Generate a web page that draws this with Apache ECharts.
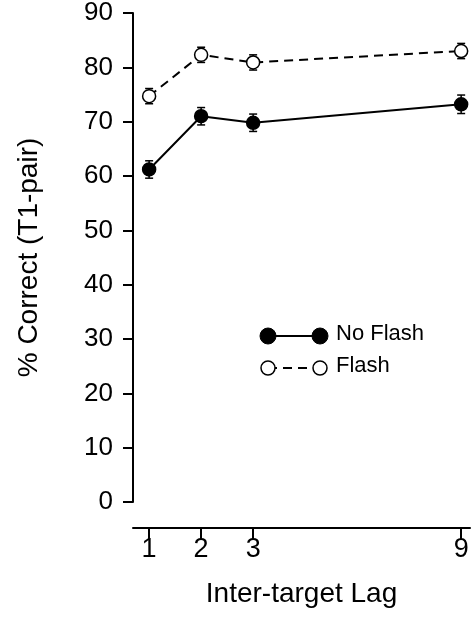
<!DOCTYPE html><html><head><meta charset="utf-8"><script src="https://cdn.jsdelivr.net/npm/echarts@6/dist/echarts.min.js"></script></head><body style="margin:0"><div id="c" style="width:474px;height:619px"></div><script>
var lagLabels=['1','2','3','9'];
var lagPos=[1,2,3,7];
var noFlash=[61.2,71.0,69.8,73.2];
var noFlashErr=[1.6,1.6,1.6,1.7];
var flash=[74.7,82.3,80.9,83.0];
var flashErr=[1.4,1.4,1.4,1.4];
var yTicks=[0,10,20,30,40,50,60,70,80,90];
function pts(v){return v.map(function(y,i){return [lagPos[i],y];});}
function errs(v,e){return v.map(function(y,i){return [lagPos[i],y-e[i],y+e[i]];});}
function errSeries(v,e){return {type:'custom',data:errs(v,e),z:1,renderItem:function(p,api){var x=api.value(0);var a=api.coord([x,api.value(1)]),b=api.coord([x,api.value(2)]);return {type:'group',children:[{type:'line',shape:{x1:a[0],y1:a[1],x2:b[0],y2:b[1]},style:{stroke:'#000',lineWidth:1.5}},{type:'line',shape:{x1:a[0]-4,y1:a[1],x2:a[0]+4,y2:a[1]},style:{stroke:'#000',lineWidth:1.5}},{type:'line',shape:{x1:b[0]-4,y1:b[1],x2:b[0]+4,y2:b[1]},style:{stroke:'#000',lineWidth:1.5}}]};}};}
var ch=echarts.init(document.getElementById('c'));
var f='Liberation Sans, Arial, sans-serif';
ch.setOption({animation:false,
grid:{left:133,right:4,top:12,bottom:117},
xAxis:{type:'value',min:0.69,max:7.17,offset:26,axisLine:{onZero:false,lineStyle:{color:'#000',width:2}},axisTick:{length:12,lineStyle:{color:'#000',width:2},customValues:lagPos},axisLabel:{customValues:lagPos,color:'#000',fontSize:27,fontFamily:f,margin:8,formatter:function(v){var i=lagPos.indexOf(v);return i>=0?lagLabels[i]:'';}},splitLine:{show:false},name:'Inter-target Lag',nameLocation:'middle',nameGap:52,nameTextStyle:{color:'#000',fontSize:28,fontFamily:f}},
yAxis:{type:'value',min:0,max:90,interval:10,axisLine:{show:true,lineStyle:{color:'#000',width:2}},axisTick:{show:true,length:10,lineStyle:{color:'#000',width:2}},axisLabel:{color:'#000',fontSize:26,fontFamily:f,margin:20,formatter:function(v){return yTicks.indexOf(v)>=0?String(v):'';}},splitLine:{show:false},name:'% Correct (T1-pair)',nameLocation:'middle',nameGap:90,nameTextStyle:{color:'#000',fontSize:28,fontFamily:f}},
series:[errSeries(noFlash,noFlashErr),errSeries(flash,flashErr),
{type:'line',data:pts(noFlash),symbol:'circle',symbolSize:13,z:3,lineStyle:{color:'#000',width:2},itemStyle:{color:'#000',borderColor:'#000',borderWidth:1.5}},
{type:'line',data:pts(flash),symbol:'circle',symbolSize:13,z:3,lineStyle:{color:'#000',width:2,type:[9,6]},itemStyle:{color:'#fff',borderColor:'#000',borderWidth:1.5}}],
graphic:[
{type:'line',shape:{x1:268,y1:336,x2:320,y2:336},style:{stroke:'#000',lineWidth:2}},
{type:'circle',shape:{cx:268,cy:336,r:8},style:{fill:'#000',stroke:'#000'}},
{type:'circle',shape:{cx:320,cy:336,r:8},style:{fill:'#000',stroke:'#000'}},
{type:'text',left:336,top:323,style:{text:'No Flash',font:'22px '+f,fill:'#000'}},
{type:'line',shape:{x1:268,y1:368,x2:320,y2:368},style:{stroke:'#000',lineWidth:2,lineDash:[9,6]}},
{type:'circle',shape:{cx:268,cy:368,r:7},style:{fill:'#fff',stroke:'#000',lineWidth:1.5}},
{type:'circle',shape:{cx:320,cy:368,r:7},style:{fill:'#fff',stroke:'#000',lineWidth:1.5}},
{type:'text',left:336,top:355,style:{text:'Flash',font:'22px '+f,fill:'#000'}}]
});
</script></body></html>
